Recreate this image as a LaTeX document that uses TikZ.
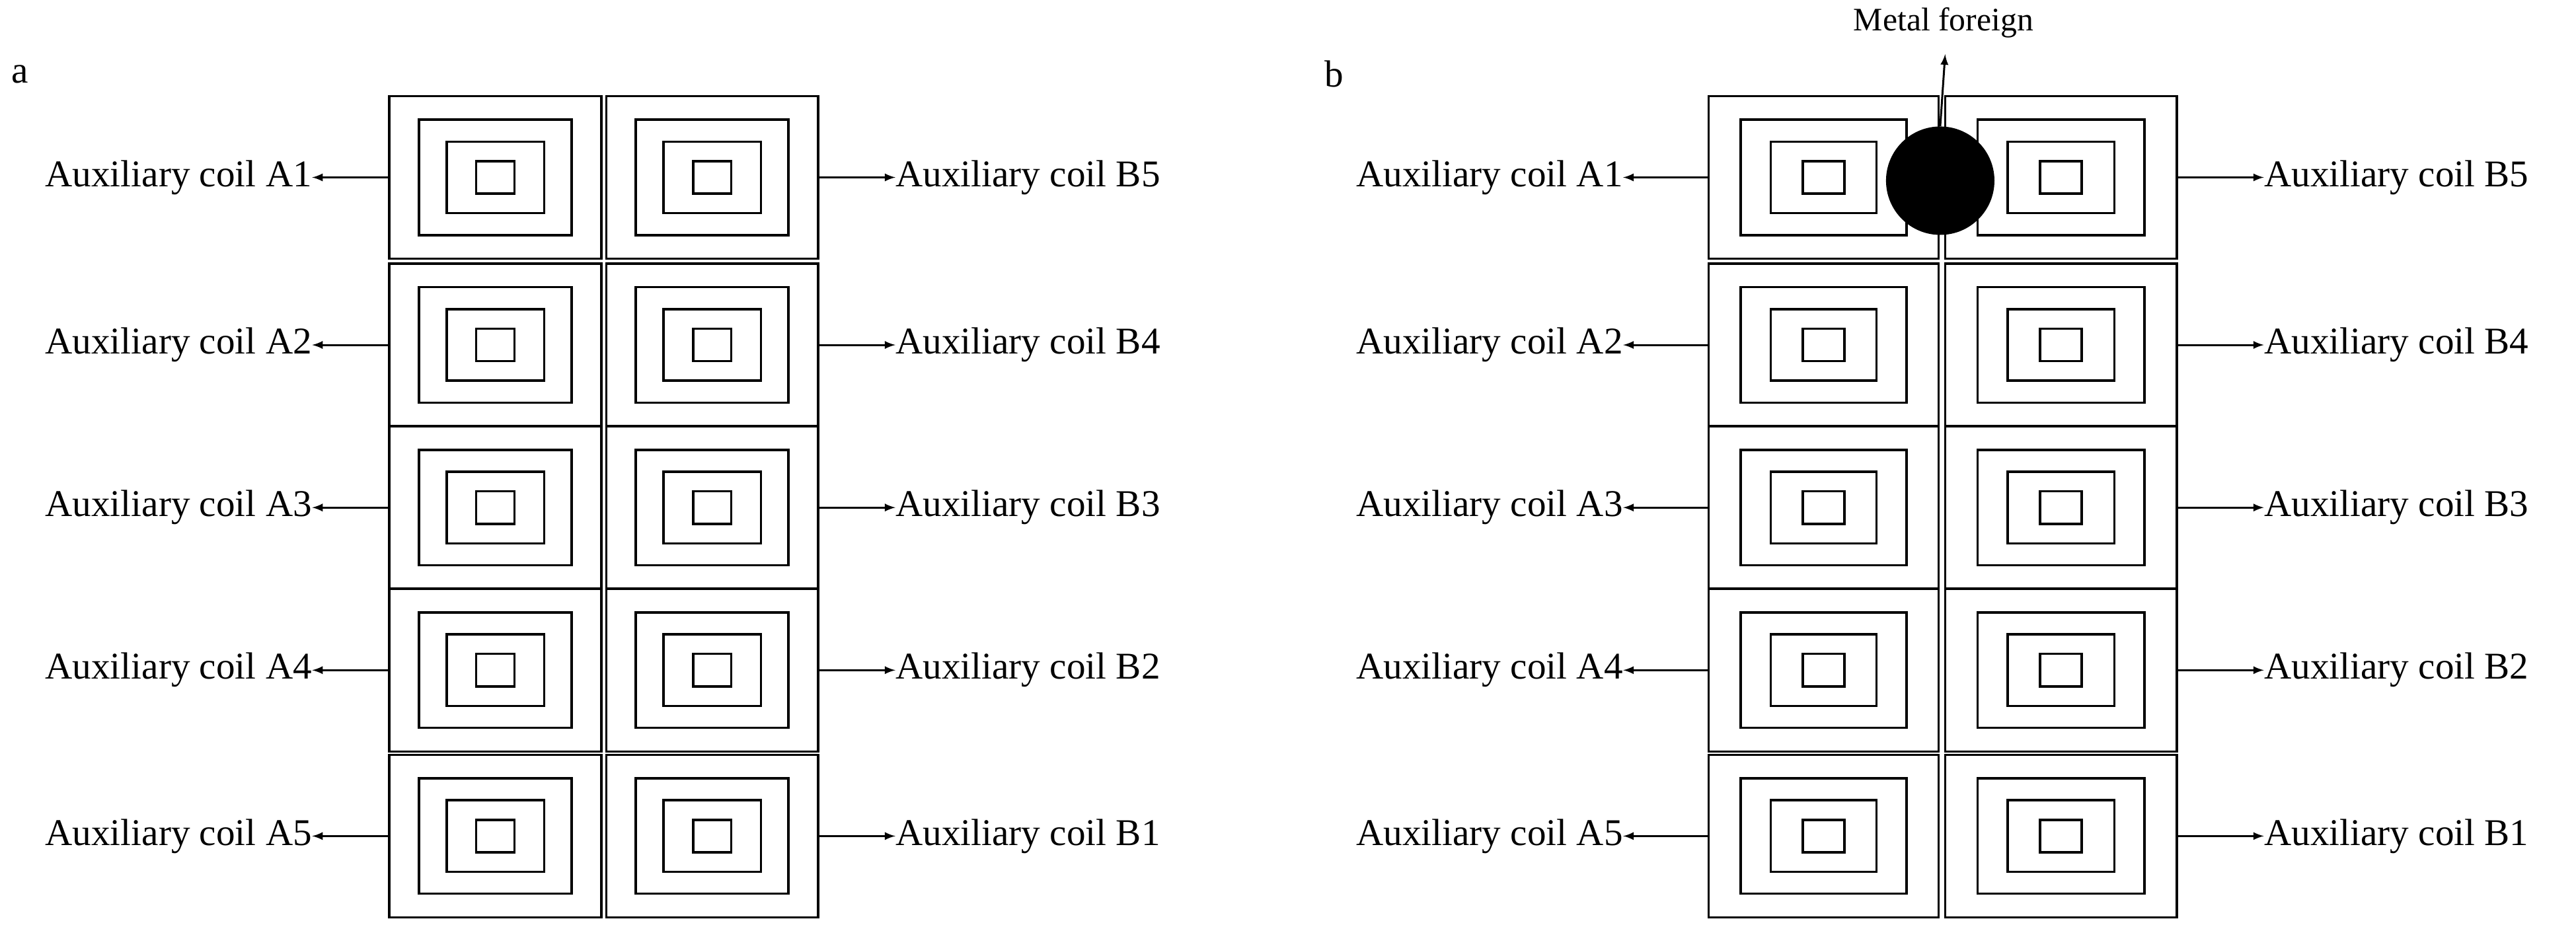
\documentclass[tikz,border=0pt]{standalone}
\usepackage{fontspec}
\setmainfont{Liberation Serif}
\begin{document}
\begin{tikzpicture}[x=1pt,y=-1pt,
  bx/.style={draw,line width=1.4pt,inner sep=0pt,minimum width=#1},
  lab/.style={font=\fontsize{23}{26}\selectfont,inner sep=0pt},
  arr/.style={-latex,line width=1.2pt}]
\useasboundingbox (0,0) rectangle (1568,563);
\newcommand\coil[5]{% name, cx, cy, w, h
  \node[bx=#4,minimum height=#5] (#1) at (#2,#3) {};
  \node[bx=0.72*#4,minimum height=0.71*#5] (#1o) at (#2,#3) {};
  \node[bx=0.46*#4,minimum height=0.44*#5] (#1m) at (#2,#3) {};
  \node[bx=0.18*#4,minimum height=0.2*#5] (#1i) at (#2,#3) {};}
\node[lab] (la) at (12,45) {a};
\node[lab] (lb) at (812,45) {b};
% panel a
\foreach \n/\y in {1/108,2/210,3/309,4/408,5/509}{
  \coil{aa\n}{301.5}{\y}{129}{99}
  \node[lab,anchor=east] (ta\n) at (190,\y) {Auxiliary coil A\n};
  \draw[arr] (aa\n.west) -- (ta\n.east);}
\foreach \n/\y in {5/108,4/210,3/309,2/408,1/509}{
  \coil{ab\n}{433.5}{\y}{129}{99}
  \node[lab,anchor=west] (tb\n) at (545,\y) {Auxiliary coil B\n};
  \draw[arr] (ab\n.east) -- (tb\n.west);}
% panel b
\foreach \n/\y in {1/108,2/210,3/309,4/408,5/509}{
  \coil{ba\n}{1110}{\y}{140}{99}
  \node[lab,anchor=east] (tba\n) at (988,\y) {Auxiliary coil A\n};
  \draw[arr] (ba\n.west) -- (tba\n.east);}
\foreach \n/\y in {5/108,4/210,3/309,2/408,1/509}{
  \coil{bb\n}{1254.5}{\y}{141}{99}
  \node[lab,anchor=west] (tbb\n) at (1378,\y) {Auxiliary coil B\n};
  \draw[arr] (bb\n.east) -- (tbb\n.west);}
\node[circle,fill=black,minimum size=66pt,inner sep=0pt] (metal) at (1181,110) {};
\node[lab,font=\fontsize{20}{24}\selectfont] (mf) at (1183,14) {Metal foreign};
\coordinate (mt) at (1184,33);
\draw[arr] (metal.north) -- (mt);
\end{tikzpicture}
\end{document}
